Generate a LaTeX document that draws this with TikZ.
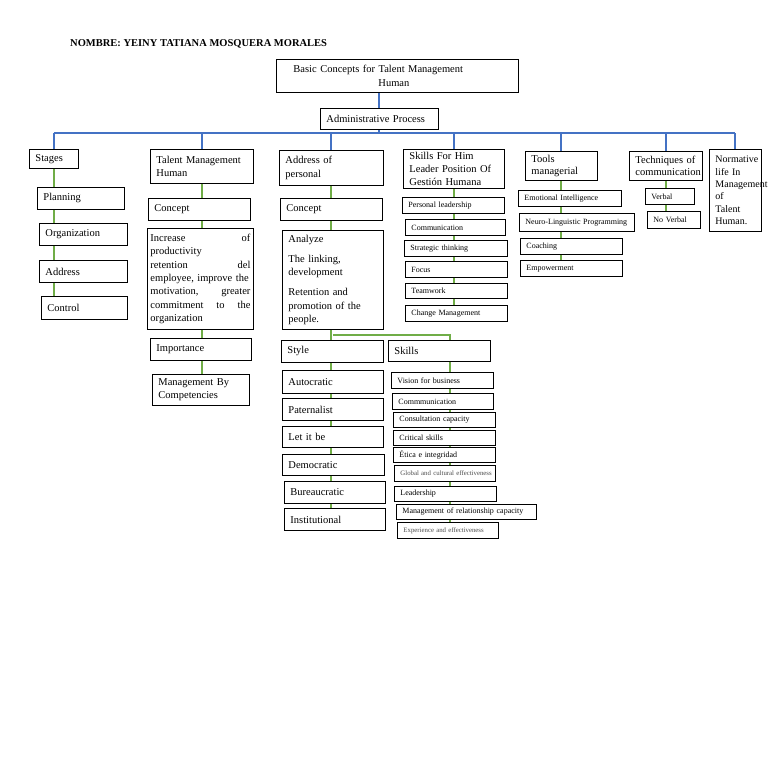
\documentclass[tikz,border=0pt]{standalone}
\usepackage{fontspec}
\setmainfont{Liberation Serif}
\usepackage{tikz}
\usetikzlibrary{positioning}
\definecolor{MapBlue}{HTML}{4472C4}
\definecolor{MapGreen}{HTML}{70AD47}
\newcommand{\mainsize}{\fontsize{10.5}{13.5}\selectfont}
\newcommand{\smallsize}{\fontsize{8}{9.6}\selectfont}
\newcommand{\tinysize}{\fontsize{6.8}{8}\selectfont}
\tikzset{
  blueline/.style={draw=MapBlue,line width=2pt},
  greenline/.style={draw=MapGreen,line width=2pt},
  box/.style={draw=black,line width=0.9pt,fill=white,anchor=north west,
    align=left,inner xsep=6pt,inner ysep=0pt,font=\mainsize},
  bx/.style 2 args={box,minimum width=#1pt,minimum height=#2pt,
    text width=#1pt-12pt},
  listbox/.style={font=\smallsize},
  greybox/.style={font=\tinysize,text=black!70}
}

\begin{document}
\begin{tikzpicture}[x=1pt,y=-1pt]
  \useasboundingbox (0,0) rectangle (768,760);
  \node[anchor=west,inner sep=0pt,font=\fontsize{10.5}{12}\selectfont\bfseries] (title) at (70,44)
    {NOMBRE: YEINY TATIANA MOSQUERA MORALES};
  % top of the map
  \node[bx={242}{33}] (top) at (276,59)
    {\hspace*{11pt}Basic Concepts for Talent Management\\\hspace*{96pt}Human};
  \node[bx={118}{21}] (admin) at (320,108) {Administrative Process};
  % first level
  \node[bx={49}{19}] (stages) at (29,149) {Stages};
  \node[bx={103}{34}] (tmh) at (150,149) {Talent Management\\Human};
  \node[bx={104}{35}] (addr) at (279,150) {Address of\\personal};
  \node[bx={101}{39},font=\fontsize{10.5}{13}\selectfont] (skh) at (403,149)
    {Skills For Him\\Leader Position Of\\Gestión Humana};
  \node[bx={72}{29},font=\fontsize{10.5}{12}\selectfont] (tools) at (525,151) {Tools\\managerial};
  \node[bx={73}{29},font=\fontsize{10.5}{12}\selectfont] (tech) at (629,151) {Techniques of\\communication};
  \node[bx={52}{82},font=\fontsize{10}{12.3}\selectfont] (norm) at (709,149)
    {Normative\\life In\\Management\\of\\Talent\\Human.};
  % stages
  \node[bx={87}{22}] (plan) at (37,187) {Planning};
  \node[bx={88}{22}] (org) at (39,223) {Organization};
  \node[bx={88}{22}] (adr) at (39,260) {Address};
  \node[bx={86}{23}] (ctrl) at (41,296) {Control};
  % talent management
  \node[bx={102}{22}] (tconc) at (148,198) {Concept};
  \node[bx={106}{101},inner xsep=3pt,text width=100pt,font=\fontsize{10.5}{13.3}\selectfont] (incr) at (147,228)
    {Increase\hfill of\\productivity\\retention\hfill del\\employee, improve the\\
     motivation,\hfill greater\\commitment\hfill to\hfill the\\organization};
  \node[bx={101}{22}] (imp) at (150,338) {Importance};
  \node[bx={97}{31},font=\fontsize{10.5}{13}\selectfont] (mbc) at (152,374) {Management By\\Competencies};
  % address of personal
  \node[bx={102}{22}] (aconc) at (280,198) {Concept};
  \node[bx={101}{99}] (anl) at (282,230)
    {Analyze\\[6.5pt]The linking,\\development\\[6.5pt]Retention and\\promotion of the\\people.};
  \node[bx={102}{22}] (style) at (281,340) {Style};
  \node[bx={101}{23}] (auto) at (282,370) {Autocratic};
  \node[bx={101}{22}] (pat) at (282,398) {Paternalist};
  \node[bx={101}{21}] (let) at (282,426) {Let it be};
  \node[bx={102}{21}] (dem) at (282,454) {Democratic};
  \node[bx={101}{22}] (bur) at (284,481) {Bureaucratic};
  \node[bx={101}{22}] (inst) at (284,508) {Institutional};
  \node[bx={102}{21}] (skills) at (388,340) {Skills};
  \node[bx={102}{16},listbox] (vis) at (391,372) {Vision for business};
  \node[bx={101}{16},listbox] (comm) at (392,393) {Commmunication};
  \node[bx={102}{15},listbox] (cons) at (393,412) {Consultation capacity};
  \node[bx={102}{15},listbox] (crit) at (393,430) {Critical skills};
  \node[bx={102}{15},listbox] (etic) at (393,447) {Ética e integridad};
  \node[bx={101}{16},greybox,inner xsep=3pt,text width=95pt] (glob) at (394,465) {\hspace*{3pt}Global and cultural effectiveness};
  \node[bx={102}{15},listbox] (lead) at (394,486) {Leadership};
  \node[bx={140}{15},listbox] (mrc) at (396,504) {Management of relationship capacity};
  \node[bx={101}{16},greybox] (exper) at (397,522) {Experience and effectiveness};
  % skills for the leader
  \node[bx={102}{16},listbox] (pl) at (402,197) {Personal leadership};
  \node[bx={100}{16},listbox] (com) at (405,219) {Communication};
  \node[bx={103}{16},listbox] (strat) at (404,240) {Strategic thinking};
  \node[bx={102}{16},listbox] (foc) at (405,261) {Focus};
  \node[bx={102}{15},listbox] (team) at (405,283) {Teamwork};
  \node[bx={102}{16},listbox] (chg) at (405,305) {Change Management};
  % tools
  \node[bx={103}{16},listbox] (ei) at (518,190) {Emotional Intelligence};
  \node[bx={115}{18},listbox] (nlp) at (519,213) {Neuro-Linguistic Programming};
  \node[bx={102}{16},listbox] (coach) at (520,238) {Coaching};
  \node[bx={102}{16},listbox] (emp) at (520,260) {Empowerment};
  % techniques
  \node[bx={49}{16},listbox] (verb) at (645,188) {Verbal};
  \node[bx={53}{17},listbox] (nverb) at (647,211) {No Verbal};

  % blue connectors
  \coordinate (bus) at (380,133);
  \draw[blueline] (top.south -| admin.north) -- (admin.north);
  \draw[blueline] (admin.south) -- (admin.south |- bus);
  \draw[blueline] (stages.north |- bus) -- (norm.north |- bus);
  \foreach \n in {stages,tmh,addr,skh,tools,tech,norm}
    \draw[blueline] (\n.north |- bus) -- (\n.north);

  % green connectors
  \foreach \a/\b in {stages/plan,plan/org,org/adr,adr/ctrl}
    \draw[greenline] (\a.south -| stages.south) -- (\b.north -| stages.south);
  \foreach \a/\b in {tmh/tconc,tconc/incr,incr/imp,imp/mbc}
    \draw[greenline] (\a.south -| tmh.south) -- (\b.north -| tmh.south);
  \foreach \a/\b in {addr/aconc,aconc/anl,anl/style,style/auto,auto/pat,pat/let,let/dem,dem/bur,bur/inst}
    \draw[greenline] (\a.south -| addr.south) -- (\b.north -| addr.south);
  \coordinate (skx) at (450,335);
  \draw[greenline] (anl.south |- skx) -- (skx) -- (skills.north -| skx);
  \foreach \a/\b in {skills/vis,vis/comm,comm/cons,cons/crit,crit/etic,etic/glob,glob/lead,lead/mrc,mrc/exper}
    \draw[greenline] (\a.south -| skx) -- (\b.north -| skx);
  \foreach \a/\b in {skh/pl,pl/com,com/strat,strat/foc,foc/team,team/chg}
    \draw[greenline] (\a.south -| skh.south) -- (\b.north -| skh.south);
  \foreach \a/\b in {tools/ei,ei/nlp,nlp/coach,coach/emp}
    \draw[greenline] (\a.south -| tools.south) -- (\b.north -| tools.south);
  \foreach \a/\b in {tech/verb,verb/nverb}
    \draw[greenline] (\a.south -| tech.south) -- (\b.north -| tech.south);
\end{tikzpicture}
\end{document}
